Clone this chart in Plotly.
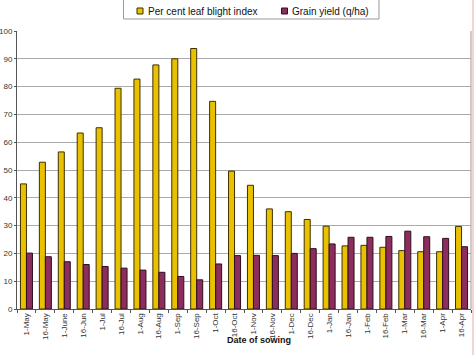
import plotly.graph_objects as go

dates = ["1-May", "16-May", "1-June", "16-Jun", "1-Jul", "16-Jul", "1-Aug", "16-Aug",
         "1-Sep", "16-Sep", "1-Oct", "16-Oct", "1-Nov", "16-Nov", "1-Dec", "16-Dec",
         "1-Jan", "16-Jan", "1-Feb", "16-Feb", "1-Mar", "16-Mar", "1-Apr", "16-Apr"]
blight_index = [45.0, 52.8, 56.5, 63.3, 65.2, 79.4, 82.7, 87.8, 90.0, 93.7, 74.7, 49.6,
                44.5, 36.0, 35.0, 32.2, 29.8, 22.7, 22.9, 22.2, 21.0, 20.6, 20.6, 29.7]
grain_yield = [20.1, 18.8, 17.0, 16.0, 15.3, 14.7, 14.0, 13.2, 11.7, 10.5, 16.2, 19.2,
               19.3, 19.2, 20.0, 21.7, 23.4, 25.8, 25.8, 26.1, 28.0, 26.0, 25.4, 22.4]
y_ticks = [0, 10, 20, 30, 40, 50, 60, 70, 80, 90, 100]
series_names = ["Per cent leaf blight index", "Grain yield (q/ha)"]
series_colors = ["#EAC100", "#8C2D5E"]
outline_colors = ["#3d3000", "#2e0f1e"]

W, H = 474, 355
L, R, T, B = 17, 3, 31, 46
PW, PH = W - L - R, H - T - B


def px(x):
    return (x - L) / PW


def py(y):
    return (H - B - y) / PH


fig = go.Figure()
for vals, name, col, oc in zip([blight_index, grain_yield], series_names, series_colors, outline_colors):
    fig.add_trace(go.Bar(
        x=dates, y=vals, name=name,
        marker=dict(color=col, line=dict(color=oc, width=1)),
    ))

# manual legend (box, swatches, labels)
shapes = [
    dict(type="rect", xref="paper", yref="paper", x0=px(123.5), x1=px(379), y0=py(19), y1=py(-2),
         line=dict(color="#9a9a9a", width=1), fillcolor="white"),
    dict(type="rect", xref="paper", yref="paper", x0=px(137), x1=px(143), y0=py(14), y1=py(8),
         line=dict(color=outline_colors[0], width=1), fillcolor=series_colors[0]),
    dict(type="rect", xref="paper", yref="paper", x0=px(281.5), x1=px(287.5), y0=py(14), y1=py(8),
         line=dict(color=outline_colors[1], width=1), fillcolor=series_colors[1]),
    dict(type="line", xref="paper", yref="paper", x0=1, x1=1, y0=0, y1=1,
         line=dict(color="#9a9a9a", width=1)),
    dict(type="rect", xref="paper", yref="paper",
         x0=1 + 1 / PW, x1=1 + 3.5 / PW, y0=py(H), y1=py(0),
         line=dict(width=0), fillcolor="#f2d6d6"),
]
annotations = [
    dict(text=series_names[0], xref="paper", yref="paper", x=px(145.5), y=py(11),
         xanchor="left", yanchor="middle", showarrow=False,
         font=dict(size=10, color="#111111")),
    dict(text=series_names[1], xref="paper", yref="paper", x=px(289.5), y=py(11),
         xanchor="left", yanchor="middle", showarrow=False,
         font=dict(size=10, color="#111111")),
    dict(text="<b>Date of sowing</b>", xref="paper", yref="paper",
         x=px(259), y=py(340), xanchor="center", yanchor="middle", showarrow=False,
         font=dict(size=9, color="#111111")),
]

fig.update_layout(
    width=W, height=H,
    margin=dict(l=L, r=R, t=T, b=B, autoexpand=False),
    paper_bgcolor="white", plot_bgcolor="white",
    barmode="group", bargap=0.365, bargroupgap=0,
    font=dict(family="Liberation Sans, Arial, sans-serif", color="#333333"),
    showlegend=False,
    xaxis=dict(
        type="category", range=[-0.5, len(dates) - 0.5], automargin=False,
        tickangle=-90, tickfont=dict(size=8, color="#333333"),
        showline=True, linecolor="#555555", linewidth=1,
        ticks="outside", ticklen=3, tickcolor="#555555", tickson="boundaries",
        showgrid=False,
    ),
    yaxis=dict(
        range=[0, 100], tickvals=y_ticks, automargin=False,
        tickfont=dict(size=8, color="#333333"),
        showline=True, linecolor="#555555", linewidth=1,
        ticks="outside", ticklen=2, tickcolor="#555555",
        showgrid=True, gridcolor="#ababab", gridwidth=1, zeroline=False,
    ),
    shapes=shapes,
    annotations=annotations,
)

fig.write_html("out.html", config={"displayModeBar": False},
               post_script="document.body.style.margin='0px';")
